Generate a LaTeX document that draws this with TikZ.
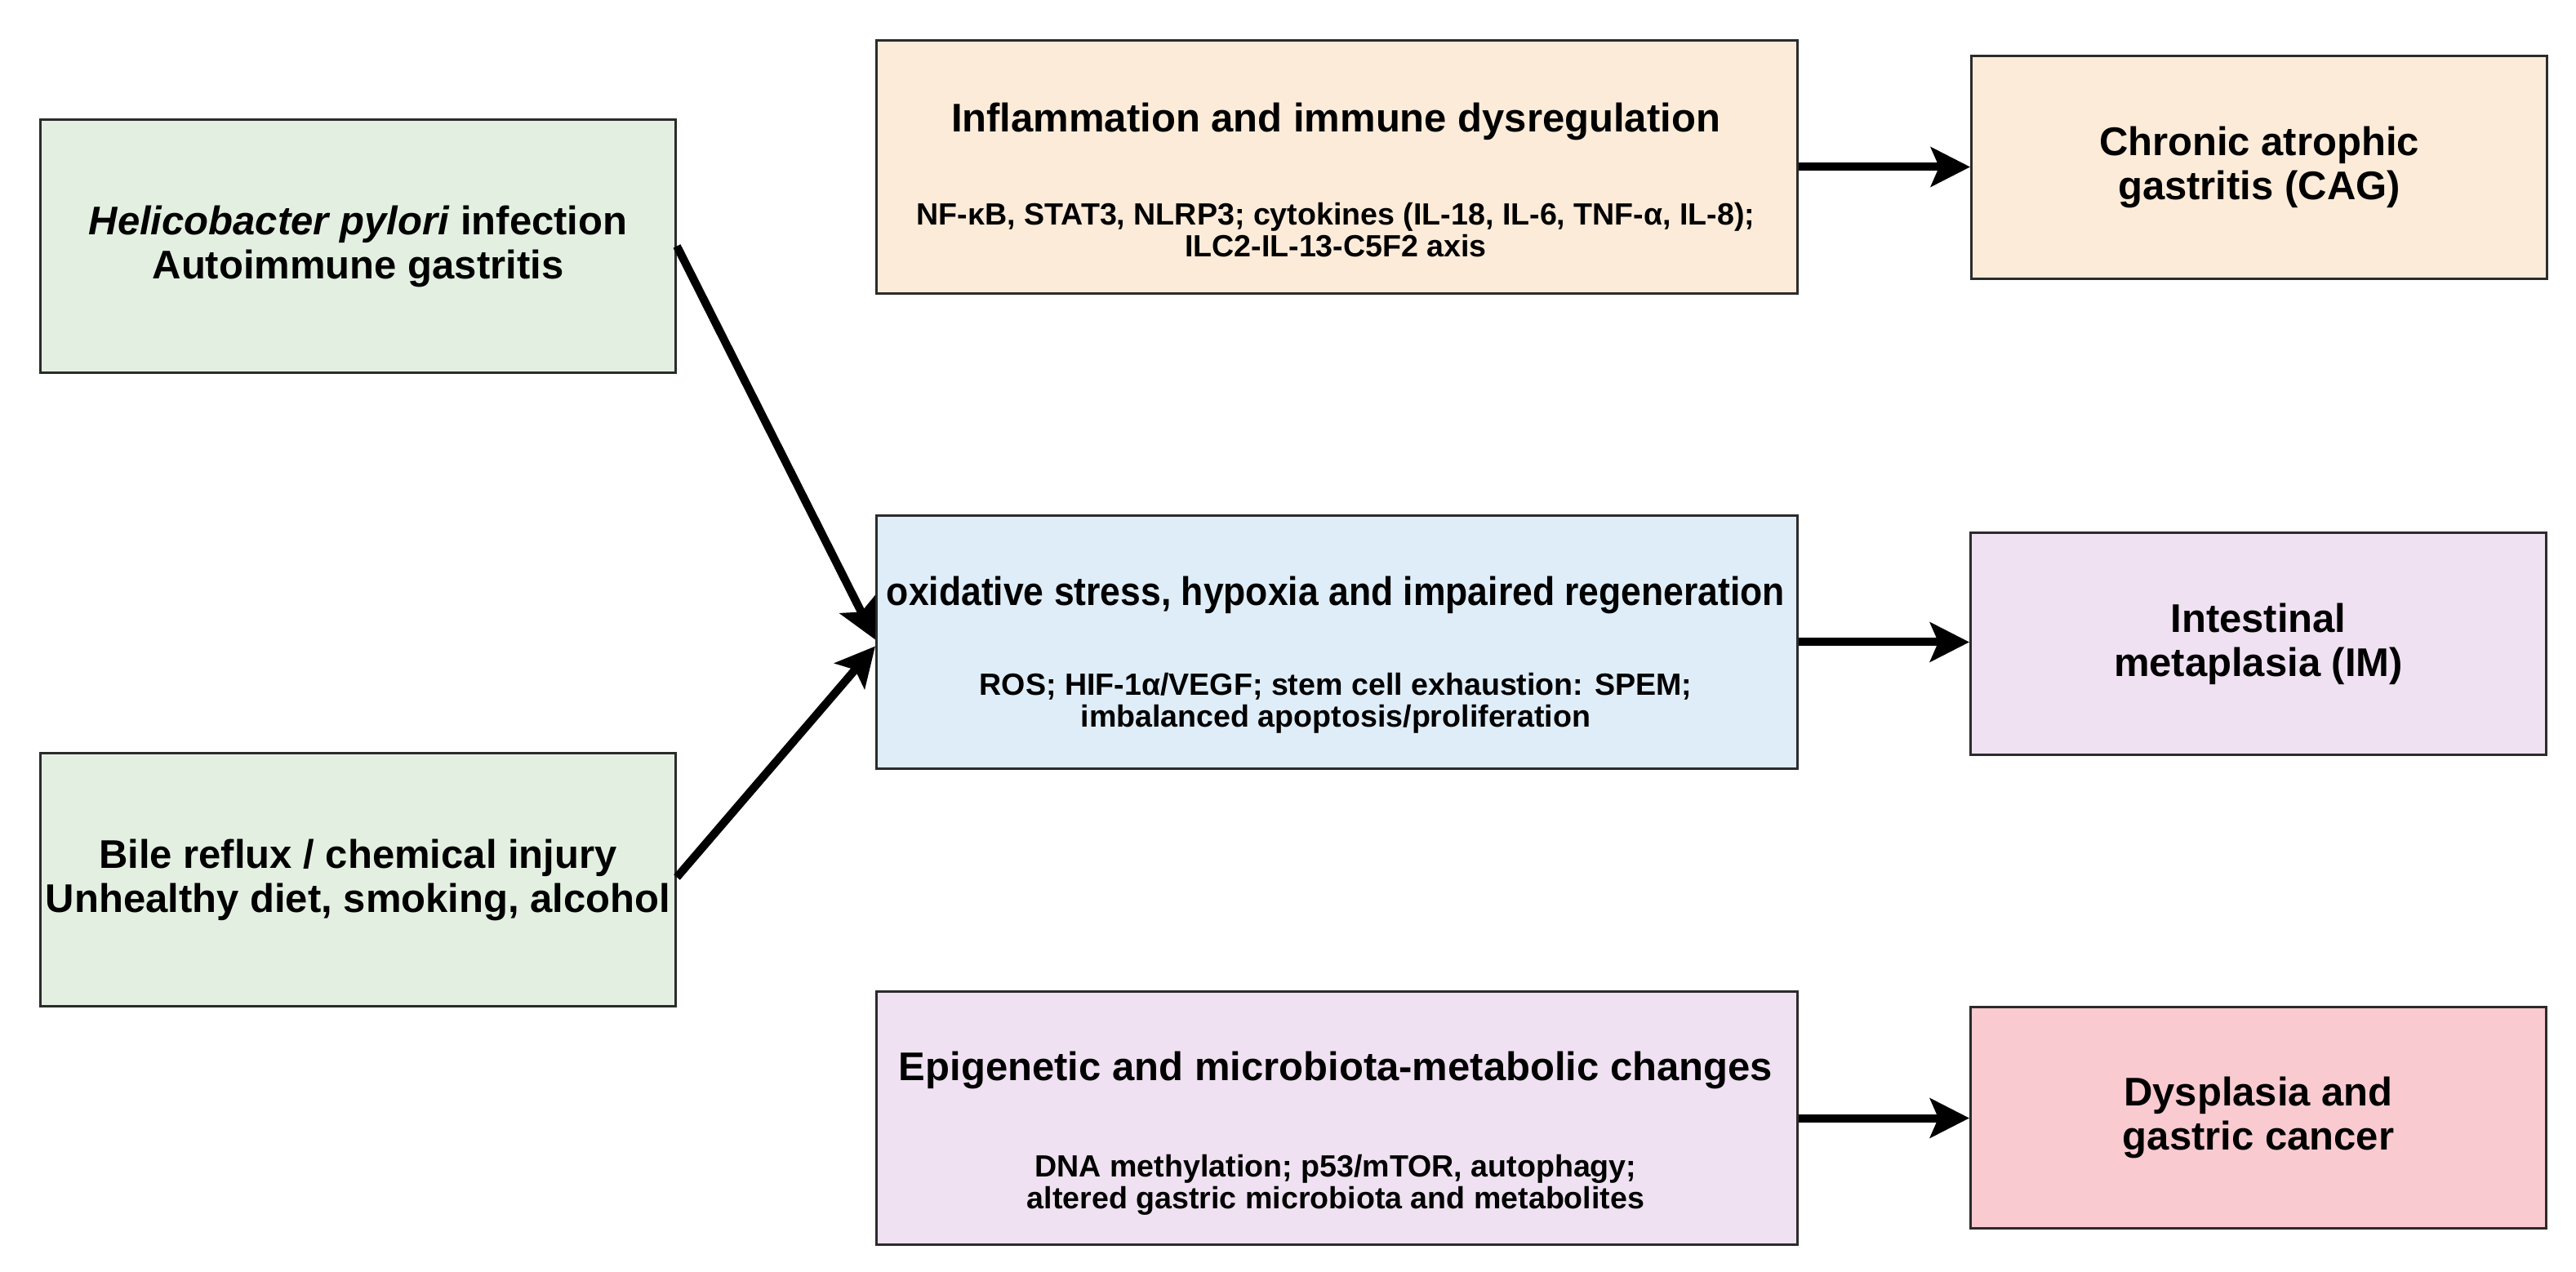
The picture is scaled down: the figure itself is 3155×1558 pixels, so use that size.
\documentclass[tikz,border=0pt]{standalone}
\usepackage{fontspec}
\setmainfont{Liberation Sans}
\usetikzlibrary{arrows.meta}
\definecolor{cgreen}{HTML}{E3F0E1}
\definecolor{cpeach}{HTML}{FCEBD8}
\definecolor{cblue}{HTML}{DEEDF8}
\definecolor{clav}{HTML}{EFE1F1}
\definecolor{cpink}{HTML}{F9CAD0}
\definecolor{boxline}{HTML}{2B2B2B}
\begin{document}
\begin{tikzpicture}[x=0.25pt,y=-0.25pt,
  box/.style={draw=boxline, line width=0.75pt, inner sep=0pt, anchor=north west},
  head/.style={font=\fontsize{12.25}{13.5}\selectfont\bfseries, align=center, inner sep=0pt},
  subtxt/.style={font=\fontsize{9.4}{9.75}\selectfont\bfseries, align=center, inner sep=0pt},
  arr/.style={line width=2.5pt, -{Stealth[length=12pt,width=12pt,inset=2.5pt]}}]
\useasboundingbox (0,0) rectangle (3155,1558);
% left boxes
\node[box, fill=cgreen, minimum width=194.5pt, minimum height=77.5pt] (l1) at (48,145) {};
\node[box, fill=cgreen, minimum width=194.5pt, minimum height=77.5pt] (l2) at (48,921) {};
% middle boxes
\node[box, fill=cpeach, minimum width=282pt, minimum height=77.5pt] (m1) at (1072,48) {};
\node[box, fill=cblue, minimum width=282pt, minimum height=77.5pt] (m2) at (1072,630) {};
\node[box, fill=clav, minimum width=282pt, minimum height=77.5pt] (m3) at (1072,1213) {};
% right boxes
\node[box, fill=cpeach, minimum width=176.25pt, minimum height=68.25pt] (r1) at (2413,67) {};
\node[box, fill=clav, minimum width=176.25pt, minimum height=68pt] (r2) at (2412,651) {};
\node[box, fill=cpink, minimum width=176.25pt, minimum height=67.75pt] (r3) at (2412,1232) {};
% texts
\node[head] (t-l1) at (l1.center) {\textit{Helicobacter pylori} infection\\Autoimmune gastritis};
\node[head] (t-l2) at (l2.center) {Bile reflux / chemical injury\\Unhealthy diet, smoking, alcohol};
\node[head] (t-m1) at (1636,149) {Inflammation and immune dysregulation};
\node[subtxt] (s-m1) at (1636,282) {NF-κB, STAT3, NLRP3; cytokines (IL-18, IL-6, TNF-α, IL-8);\\ILC2-IL-13-C5F2 axis};
\node[head] (t-m2) at (1636,729) {\scalebox{0.908}[1]{oxidative stress, hypoxia and impaired regeneration}};
\node[subtxt] (s-m2) at (1636,861) {ROS; HIF-1α/VEGF; stem cell exhaustion: SPEM;\\imbalanced apoptosis/proliferation};
\node[head] (t-m3) at (1636,1311) {Epigenetic and microbiota-metabolic changes};
\node[subtxt] (s-m3) at (1636,1451) {DNA methylation; p53/mTOR, autophagy;\\altered gastric microbiota and metabolites};
\node[head] (t-r1) at (r1.center) {Chronic atrophic\\gastritis (CAG)};
\node[head] (t-r2) at (r2.center) {Intestinal\\metaplasia (IM)};
\node[head] (t-r3) at (r3.center) {Dysplasia and\\gastric cancer};
% arrows
\draw[arr] (l1.east) -- ([yshift=0.75pt]m2.west);
\draw[arr] ([yshift=0.75pt]l2.east) -- ([yshift=-1.25pt]m2.west);
\draw[arr] (m1.east) -- (m1.east -| r1.west);
\draw[arr] (m2.east) -- (m2.east -| r2.west);
\draw[arr] (m3.east) -- (m3.east -| r3.west);
\end{tikzpicture}
\end{document}
